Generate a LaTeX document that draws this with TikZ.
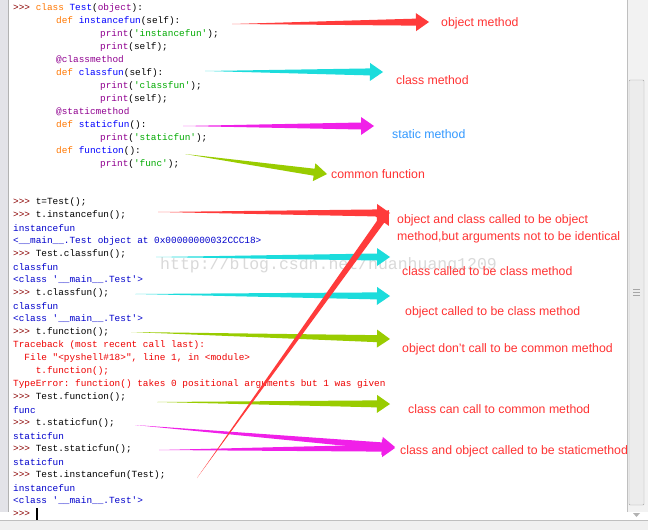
\documentclass[tikz,border=0pt]{standalone}
\usepackage{fontspec}
\setmonofont{Liberation Mono}
\setsansfont{Liberation Sans}
\usepackage{tikz}
\usetikzlibrary{calc,positioning}
\definecolor{prm}{HTML}{8B0000}
\definecolor{kw}{HTML}{FF7700}
\definecolor{dfn}{HTML}{0000FF}
\definecolor{bltn}{HTML}{900090}
\definecolor{strg}{HTML}{00AA00}
\definecolor{outp}{HTML}{0000CC}
\definecolor{errc}{HTML}{EE0000}
\definecolor{note}{HTML}{FF3333}
\definecolor{arred}{HTML}{FF3B3B}
\definecolor{arcyan}{HTML}{1CDCDC}
\definecolor{armag}{HTML}{F020E8}
\definecolor{argreen}{HTML}{99CC00}
\newcommand{\pr}{\textcolor{prm}{>>>} }
\newcommand{\fatarrow}[3]{%
  \coordinate (H) at ($(#3)!13pt!(#2)$);
  \fill[#1] (#2) -- ($(H)!3.5pt!90:(#3)$) -- ($(H)!9pt!90:(#3)$) -- (#3)
    -- ($(H)!9pt!-90:(#3)$) -- ($(H)!3.5pt!-90:(#3)$) -- cycle;}
\begin{document}
\begin{tikzpicture}[x=1pt,y=-1pt,
  code/.style={anchor=west,inner sep=0pt,font=\fontsize{9.4}{11}\ttfamily},
  lab/.style={anchor=west,inner sep=0pt,font=\fontsize{12.3}{16.5}\sffamily,text=note}]
\useasboundingbox (0,0) rectangle (648,530);
% window
\fill[white] (0,0) rectangle (648,530);
\fill[blue!8!gray!20] (0,0) rectangle (8,512);
\draw[gray!60] (8,0) -- (8,512);
\fill[gray!10] (627,0) rectangle (648,512);
\draw[gray!50] (627,0) -- (627,512);
\draw[gray!70,fill=gray!15,rounded corners=1pt] (629,80) rectangle (644,505);
\foreach \gy in {289,292,295} \draw[gray!70] (633,\gy) -- (640,\gy);
\fill[gray!60] (633,513) -- (640,513) -- (636.5,517) -- cycle;
\fill[gray!12] (0,520) rectangle (648,530);
\draw[gray!50] (0,520) -- (648,520);
% watermark
\node[anchor=west,inner sep=0pt,font=\fontsize{16.5}{18}\ttfamily,text=gray!30] (wm) at (160,265) {http://blog.csdn.net/huanhuanq1209};
% class definition
\node[code] (c1) at (13,8) {\pr\textcolor{kw}{class} \textcolor{dfn}{Test}(\textcolor{bltn}{object}):};
\node[code] (c2) at (56,21) {\textcolor{kw}{def} \textcolor{dfn}{instancefun}(self):};
\node[code] (c3) at (100,34) {\textcolor{bltn}{print}(\textcolor{strg}{'instancefun'});};
\node[code] (c4) at (100,47) {\textcolor{bltn}{print}(self);};
\node[code] (c5) at (56,60) {\textcolor{bltn}{@classmethod}};
\node[code] (c6) at (56,73) {\textcolor{kw}{def} \textcolor{dfn}{classfun}(self):};
\node[code] (c7) at (100,86) {\textcolor{bltn}{print}(\textcolor{strg}{'classfun'});};
\node[code] (c8) at (100,99) {\textcolor{bltn}{print}(self);};
\node[code] (c9) at (56,112) {\textcolor{bltn}{@staticmethod}};
\node[code] (c10) at (56,125) {\textcolor{kw}{def} \textcolor{dfn}{staticfun}():};
\node[code] (c11) at (100,138) {\textcolor{bltn}{print}(\textcolor{strg}{'staticfun'});};
\node[code] (c12) at (56,151) {\textcolor{kw}{def} \textcolor{dfn}{function}():};
\node[code] (c13) at (100,164) {\textcolor{bltn}{print}(\textcolor{strg}{'func'});};
% session
\node[code] (s1) at (13,202) {\pr t=Test();};
\node[code] (s2) at (13,215) {\pr t.instancefun();};
\node[code,text=outp] (s3) at (13,228) {instancefun};
\node[code,text=outp] (s4) at (13,241) {<\_\_main\_\_.Test object at 0x00000000032CCC18>};
\node[code] (s5) at (13,254) {\pr Test.classfun();};
\node[code,text=outp] (s6) at (13,267) {classfun};
\node[code,text=outp] (s7) at (13,280) {<class '\_\_main\_\_.Test'>};
\node[code] (s8) at (13,293) {\pr t.classfun();};
\node[code,text=outp] (s9) at (13,306) {classfun};
\node[code,text=outp] (s10) at (13,319) {<class '\_\_main\_\_.Test'>};
\node[code] (s11) at (13,332) {\pr t.function();};
\node[code,text=errc] (s12) at (13,345) {Traceback (most recent call last):};
\node[code,text=errc] (s13) at (13,358) {\ \ File "<pyshell\#18>", line 1, in <module>};
\node[code,text=errc] (s14) at (13,371) {\ \ \ \ t.function();};
\node[code,text=errc] (s15) at (13,384) {TypeError: function() takes 0 positional arguments but 1 was given};
\node[code] (s16) at (13,397) {\pr Test.function();};
\node[code,text=outp] (s17) at (13,410) {func};
\node[code] (s18) at (13,423) {\pr t.staticfun();};
\node[code,text=outp] (s19) at (13,436) {staticfun};
\node[code] (s20) at (13,449) {\pr Test.staticfun();};
\node[code,text=outp] (s21) at (13,462) {staticfun};
\node[code] (s22) at (13,475) {\pr Test.instancefun(Test);};
\node[code,text=outp] (s23) at (13,488) {instancefun};
\node[code,text=outp] (s24) at (13,501) {<class '\_\_main\_\_.Test'>};
\node[code] (s25) at (13,514) {\pr};
\draw[line width=1.2pt] (37,508) -- (37,520);
% annotations
\fatarrow{arred}{232,24}{429,22}
\fatarrow{arcyan}{205,71}{383,72}
\fatarrow{armag}{183,126}{374,126}
\fatarrow{argreen}{185,154}{327,174}
\node[lab] (n1) at (441,23) {object method};
\node[lab] (n2) at (396,80) {class method};
\node[lab,text=blue!50!cyan!80!white] (n3) at (392,134) {static method};
\node[lab] (n4) at (331,174) {common function};
\fatarrow{arred}{158,212}{390,213}
\fatarrow{arcyan}{156,257}{390,257}
\fatarrow{arcyan}{135,294}{390,296}
\fatarrow{argreen}{131,332}{390,339}
\fatarrow{argreen}{157,402}{390,404}
\fatarrow{armag}{135,425}{395,447}
\fatarrow{armag}{159,450}{395,448}
\fatarrow{arred}{197,478}{389,210}
\node[lab,align=left] (n5) at (397,229) {object and class called to be object\\method,but arguments not to be identical};
\node[lab] (n6) at (402,271) {class called to be class method};
\node[lab] (n7) at (405,312) {object called to be class method};
\node[lab] (n8) at (402,349) {object don't call to be common method};
\node[lab] (n9) at (408,409) {class can call to common method};
\node[lab] (n10) at (400,451) {class and object called to be staticmethod};
\end{tikzpicture}
\end{document}
